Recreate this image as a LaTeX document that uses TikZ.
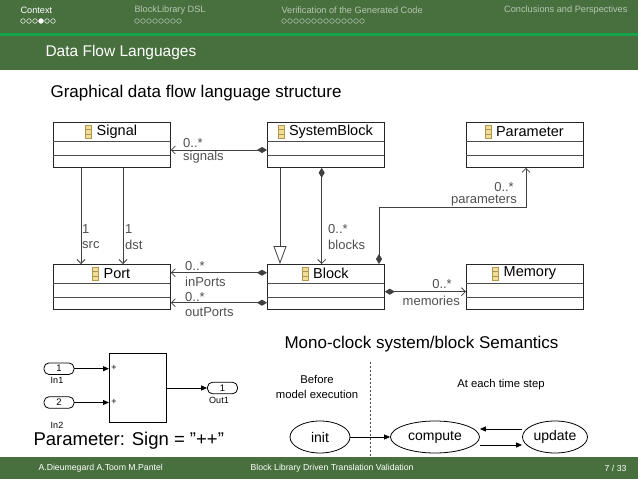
\documentclass[tikz,border=0pt]{standalone}
\usepackage{fontspec}
\setmainfont{Liberation Sans}
\usetikzlibrary{arrows.meta,shapes.geometric}
\definecolor{bar}{RGB}{72,112,62}
\definecolor{gline}{RGB}{20,163,74}
\definecolor{lab}{RGB}{80,80,80}
\definecolor{icon}{RGB}{240,222,150}
\definecolor{iconb}{RGB}{176,150,80}
\begin{document}
\begin{tikzpicture}[x=1pt,y=-1pt,
  uml/.style={draw=black!85, thick, minimum width=117pt, minimum height=45pt, anchor=north west, inner sep=0pt, fill=white},
  cname/.style={font=\fontsize{14.5}{15}\selectfont, inner sep=0pt},
  lbl/.style={font=\fontsize{13}{14}\selectfont, text=lab, inner sep=0pt},
  con/.style={draw=black!75, thick},
  comp/.style={con, {Diamond[length=10pt,width=6pt]}-{Straight Barb[length=4pt,width=8pt]}},
  sl/.style={font=\fontsize{9}{10}\selectfont},
  nav/.style={font=\fontsize{9.2}{10}\selectfont, text=white!60!bar},
  pill/.style={draw, thick, rounded corners=5pt, minimum width=30pt, minimum height=11.5pt, inner sep=0pt, font=\fontsize{9.5}{10}\selectfont},
  ell/.style={draw, thick, ellipse, inner sep=0pt, font=\fontsize{14}{15}\selectfont},
  sarr/.style={thick, -{Triangle[length=6pt,width=5pt]}}]
\useasboundingbox (0,0) rectangle (638,479);
\fill[white] (0,0) rectangle (638,479);
% header
\fill[bar] (0,0) rectangle (638,33);
\fill[gline] (0,33) rectangle (638,36);
\fill[bar] (0,36) rectangle (638,70);
\node[nav, anchor=west, text=white] (s1) at (17,10) {Context};
\node[nav, anchor=west] (s2) at (131,10) {BlockLibrary DSL};
\node[nav, anchor=west] (s3) at (278,10) {Verification of the Generated Code};
\node[nav, anchor=east] (s4) at (631,10) {Conclusions and Perspectives};
\foreach \i in {0,...,5}{\draw[white, line width=0.5pt] (23+\i*6,21) circle (2.3pt);}
\fill[white] (23+3*6,21) circle (2.5pt);
\foreach \i in {0,...,7}{\draw[white!60!bar, line width=0.5pt] (137+\i*6,21) circle (2.3pt);}
\foreach \i in {0,...,13}{\draw[white!60!bar, line width=0.5pt] (284+\i*6,21) circle (2.3pt);}
\node[anchor=west, text=white, font=\fontsize{15.5}{17}\selectfont] (title) at (42,52) {Data Flow Languages};
% footer
\fill[bar] (0,457) rectangle (638,479);
\node[anchor=west, text=white, font=\fontsize{8.7}{9}\selectfont] (f1) at (35,468) {A.Dieumegard A.Toom M.Pantel};
\node[text=white, font=\fontsize{8.7}{9}\selectfont] (f2) at (332,468) {Block Library Driven Translation Validation};
\node[anchor=east, text=white, font=\fontsize{8.7}{9}\selectfont] (f3) at (630,468) {7 / 33};
% subtitle
\node[anchor=west, font=\fontsize{17}{19}\selectfont] (sub) at (47,93) {Graphical data flow language structure};
% UML classes
\foreach \n/\t/\x/\y in {sig/Signal/53/122, sys/SystemBlock/267/122, par/Parameter/466/122, port/Port/53/264, blk/Block/267/264, mem/Memory/466/264}{
  \node[uml] (\n) at (\x,\y) {};
  \draw[black!70] (\x,\y+19) -- ++(117,0);
  \draw[black!70] (\x,\y+33) -- ++(117,0);
}
\foreach \n/\t in {sig/Signal, sys/SystemBlock, par/Parameter, port/Port, blk/Block, mem/Memory}{
  \node[cname] (\n t) at ([xshift=5pt,yshift=-9.5pt]\n.north) {\t};
  \draw[iconb, fill=icon] ([xshift=-11pt,yshift=6.5pt]\n t.west) rectangle ++(6,13);
  \draw[iconb] ([xshift=-11pt,yshift=2.2pt]\n t.west) -- ++(6,0) ([xshift=-11pt,yshift=-2.2pt]\n t.west) -- ++(6,0);
}
% connectors
\draw[comp] (sys.west |- 0,150) -- (sig.east |- 0,150);
\node[lbl, anchor=west] (l1) at (183,143) {0..*};
\node[lbl, anchor=west] (l2) at (183,157) {signals};
\draw[con, -{Straight Barb[length=4pt,width=8pt]}] (sig.south -| 81,0) -- (port.north -| 81,0);
\draw[con, -{Straight Barb[length=4pt,width=8pt]}] (sig.south -| 123,0) -- (port.north -| 123,0);
\node[lbl, anchor=west] (l3) at (82,229) {1};
\node[lbl, anchor=west] (l4) at (82,245) {src};
\node[lbl, anchor=west] (l5) at (125,229) {1};
\node[lbl, anchor=west] (l6) at (125,245) {dst};
\draw[con, -{Triangle[open,length=18pt,width=13pt]}] (sys.south -| 280,0) -- (blk.north -| 280,0);
\draw[comp] (sys.south -| 321.7,0) -- (blk.north -| 321.7,0);
\node[lbl, anchor=west] (l7) at (328,229) {0..*};
\node[lbl, anchor=west] (l8) at (328,245) {blocks};
\coordinate (c1) at (379,207);
\coordinate (c2) at (526,207);
\draw[con, {Diamond[length=10pt,width=6pt]}-{Straight Barb[length=4pt,width=8pt]}] (blk.north -| c1) -- (c1) -- (c2) -- (par.south -| c2);
\node[lbl, anchor=east] (l9) at (514,187) {0..*};
\node[lbl, anchor=east] (l10) at (517,201) {parameters};
\draw[comp] (blk.west |- 0,272.7) -- (port.east |- 0,272.7);
\draw[comp] (blk.west |- 0,302.7) -- (port.east |- 0,302.7);
\node[lbl, anchor=west] (l11) at (185,266) {0..*};
\node[lbl, anchor=west] (l12) at (185,282) {inPorts};
\node[lbl, anchor=west] (l13) at (185,297) {0..*};
\node[lbl, anchor=west] (l14) at (185,312) {outPorts};
\draw[comp] (blk.east |- 0,291.7) -- (mem.west |- 0,291.7);
\node[lbl, anchor=east] (l15) at (452,284) {0..*};
\node[lbl, anchor=east] (l16) at (460,301) {memories};
% Simulink
\node[pill] (in1) at (59,368.7) {1};
\node[pill] (in2) at (59,402.5) {2};
\node[sl] (in1l) at (57,380) {In1};
\node[sl] (in2l) at (57,425) {In2};
\node[draw, thick, anchor=north west, minimum width=57pt, minimum height=69pt, inner sep=0pt] (sum) at (109,353.4) {};
\draw[sarr] (in1) -- (in1 -| sum.west);
\draw[sarr] (in2) -- (in2 -| sum.west);
\node[sl] (p1) at (114,368) {+};
\node[sl] (p2) at (114,402) {+};
\node[pill] (out1) at (222.5,388) {1};
\node[sl] (out1l) at (219,400) {Out1};
\draw[sarr] (sum.east |- out1) -- (out1);
\node[anchor=west, font=\fontsize{18.5}{20}\selectfont] (param) at (30,441) {Parameter: Sign = "++"};
% semantics
\node[anchor=west, font=\fontsize{17}{19}\selectfont] (mono) at (281,344) {Mono-clock system/block Semantics};
\coordinate (d1) at (370.6,362);
\coordinate (d2) at (370.6,456);
\draw[thick, dash pattern=on 2pt off 2pt, black!70] (d1) -- (d2);
\node[font=\fontsize{11.3}{15}\selectfont, align=center] (before) at (317,387) {Before\\model execution};
\node[font=\fontsize{11.3}{13}\selectfont] (each) at (501,385) {At each time step};
\node[ell, minimum width=60pt, minimum height=32pt] (init) at (320,437) {init};
\node[ell, minimum width=89pt, minimum height=32pt] (compute) at (435,437) {compute};
\node[ell, minimum width=65pt, minimum height=32pt] (update) at (555,437) {update};
\draw[sarr] (init) -- (compute);
\draw[sarr] (update.west |- 0,429) -- (compute.east |- 0,429);
\draw[sarr] (compute.east |- 0,445) -- (update.west |- 0,445);
\end{tikzpicture}
\end{document}
